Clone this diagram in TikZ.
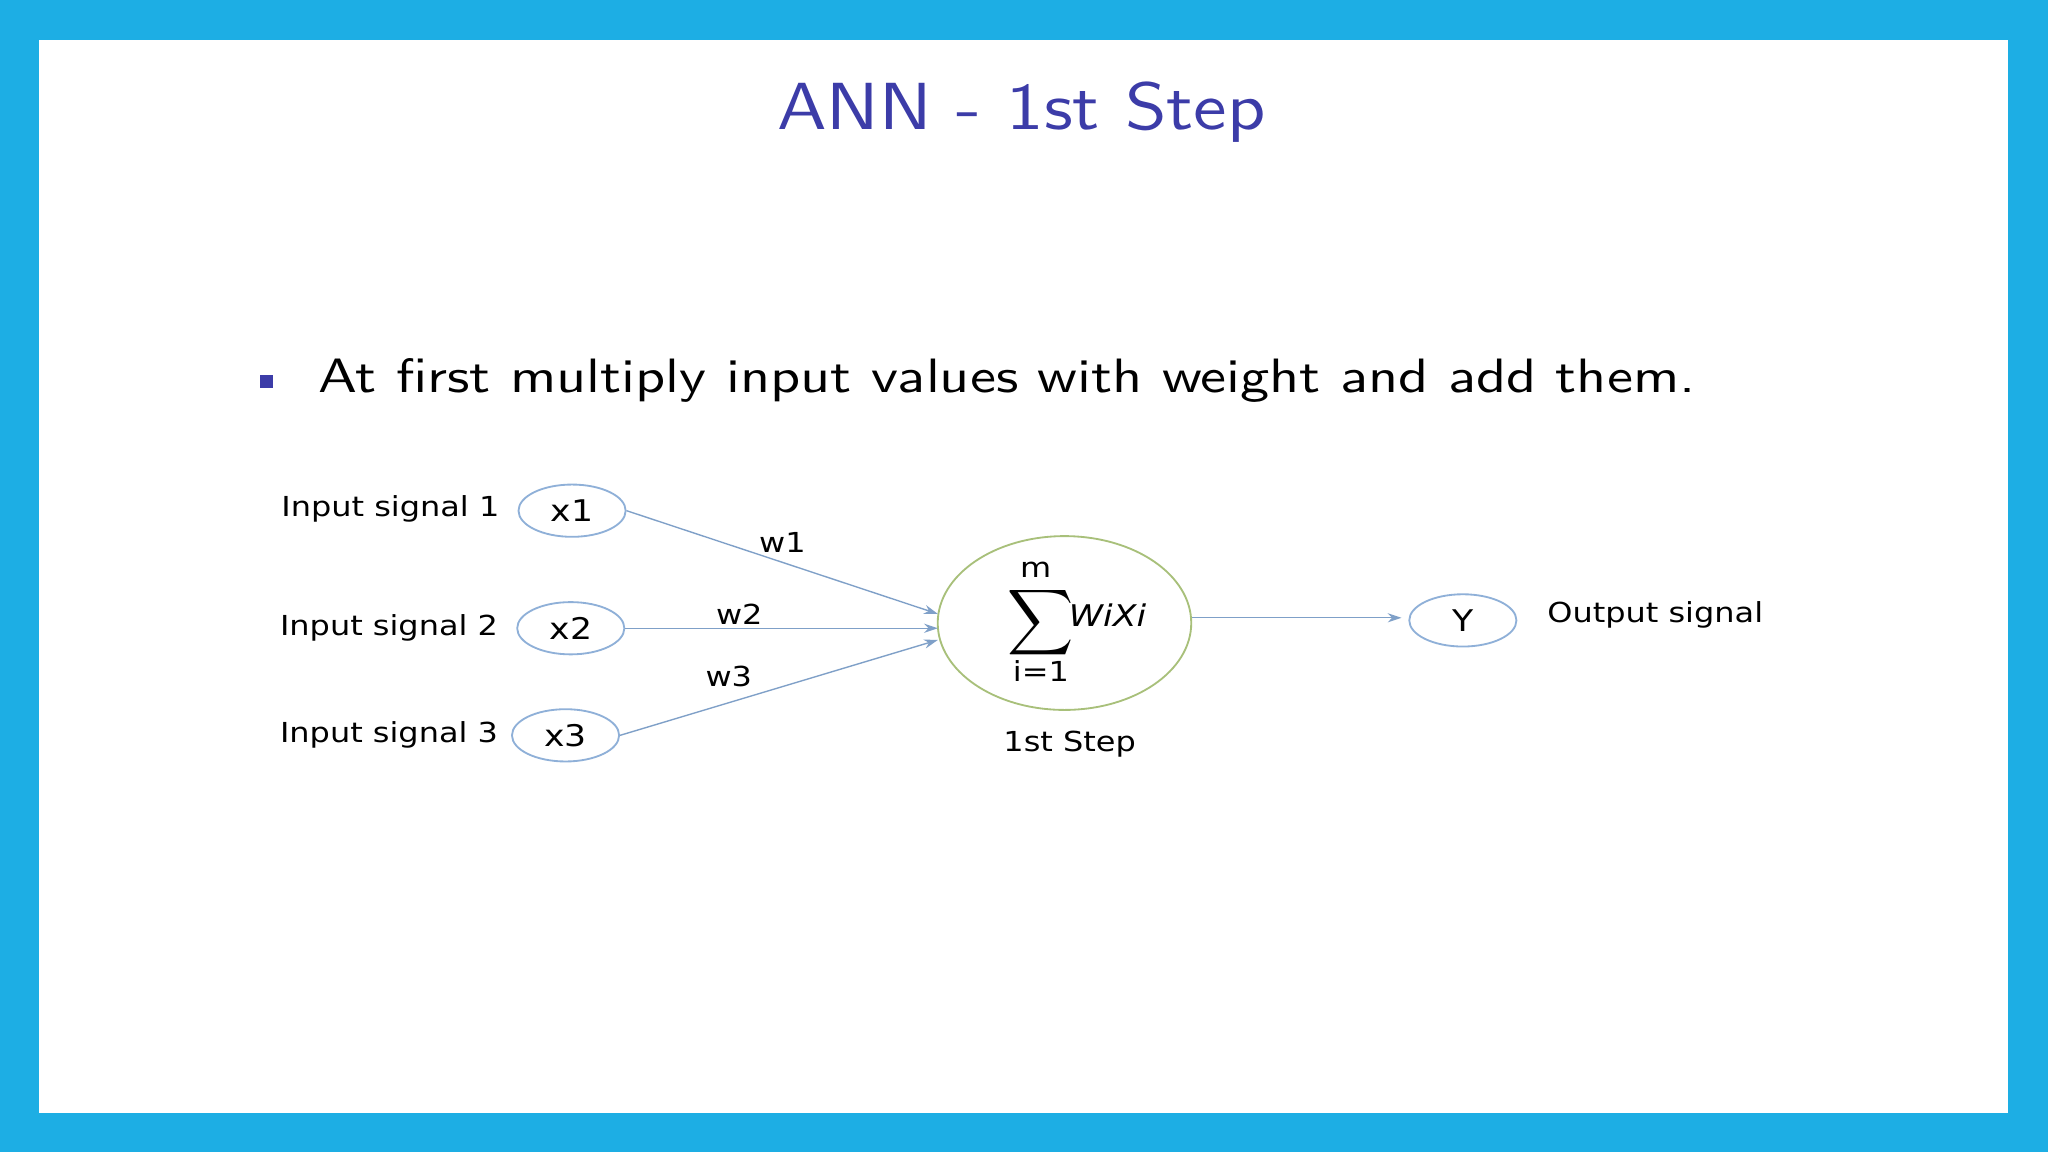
\documentclass[tikz,border=0pt]{standalone}
\usepackage{fontspec}
\newfontfamily\djsans[FakeStretch=1.16]{DejaVu Sans}
\usetikzlibrary{shapes.geometric,arrows.meta}
\definecolor{frame}{HTML}{1DAEE4}
\definecolor{titlec}{HTML}{3C3CA8}
\definecolor{ell}{HTML}{8FB0D8}
\definecolor{arr}{HTML}{7FA0C8}
\definecolor{circ}{HTML}{A8C07A}
\begin{document}
\begin{tikzpicture}[x=0.01cm,y=-0.01cm,
  inp/.style={draw=ell,ellipse,minimum width=0.82cm,minimum height=0.40cm,inner sep=0pt,font=\djsans\fontsize{6.5}{7}\selectfont},
  lab/.style={font=\djsans\fontsize{6}{7}\selectfont,inner sep=0pt},
  con/.style={draw=arr,line width=0.3pt,-{Stealth[length=3pt,width=2pt]}}]
\fill[frame] (0,0) rectangle (1568,882);
\fill[white] (30,31) rectangle (1537,852);
\useasboundingbox (0,0) rectangle (1568,882);
\node[text=titlec,font=\sffamily\fontsize{14.5}{16}\selectfont] (title) at (782,86) {\scalebox{1.15}[1]{ANN - 1st Step}};
\fill[titlec] (199,287) rectangle (209,297);
\node[anchor=west,inner sep=0pt,font=\sffamily\fontsize{10.5}{12}\selectfont] (bul) at (243,291) {\scalebox{1.21}[1]{At first multiply input values with weight and add them.}};
\node[inp] (x1) at (438,391) {x1};
\node[inp] (x2) at (437,481) {x2};
\node[inp] (x3) at (433,563) {x3};
\node[lab,anchor=east] (l1) at (383,390) {Input signal 1};
\node[lab,anchor=east] (l2) at (382,481) {Input signal 2};
\node[lab,anchor=east] (l3) at (382,563) {Input signal 3};
\node[draw=circ,ellipse,minimum width=1.94cm,minimum height=1.33cm] (s) at (815,477) {};
\node[inp] (y) at (1120,475) {Y};
\node[lab,anchor=west] (out) at (1184,471) {Output signal};
\node[lab] (st) at (819,570) {1st Step};
\node[inner sep=0pt,font=\fontsize{23}{23}\selectfont] (sig) at (797,477) {$\displaystyle\sum$};
\node[lab] (m) at (793,436) {m};
\node[lab] (i1) at (797,514) {i=1};
\node[lab,font=\djsans\itshape\fontsize{6.5}{7}\selectfont] (wx) at (848,471) {WiXi};
\coordinate (e1) at (718,470);
\coordinate (e2) at (718,481);
\coordinate (e3) at (718,490);
\coordinate (o1) at (913,473);
\coordinate (o2) at (1073,473);
\draw[con] (x1.east) -- (e1);
\draw[con] (x2.east) -- (e2);
\draw[con] (x3.east) -- (e3);
\draw[con] (o1) -- (o2);
\node[lab] (w1) at (599,415) {w1};
\node[lab] (w2) at (566,470) {w2};
\node[lab] (w3) at (558,518) {w3};
\end{tikzpicture}
\end{document}
